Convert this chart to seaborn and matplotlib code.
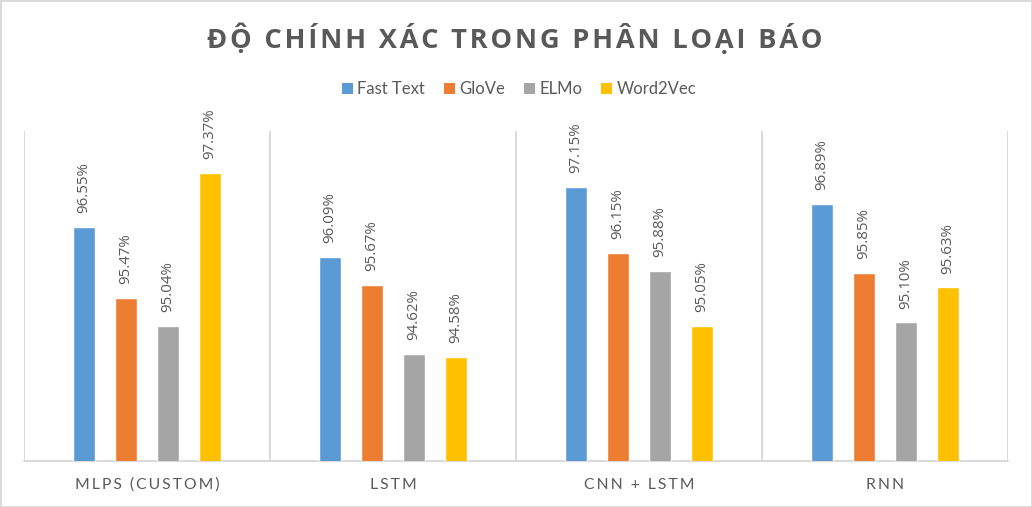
import matplotlib
matplotlib.use("Agg")
import matplotlib.pyplot as plt
import seaborn as sns
import pandas as pd
from matplotlib.patches import Rectangle, Patch

# ---- data ----
categories = ["MLPS (CUSTOM)", "LSTM", "CNN + LSTM", "RNN"]
series = ["Fast Text", "GloVe", "ELMo", "Word2Vec"]
fast_text = [96.55, 96.09, 97.15, 96.89]
glove = [95.47, 95.67, 96.15, 95.85]
elmo = [95.04, 94.62, 95.88, 95.10]
word2vec = [97.37, 94.58, 95.05, 95.63]
colors = ["#5B9BD5", "#ED7D31", "#A5A5A5", "#FFC000"]
title = "ĐỘ CHÍNH XÁC TRONG PHÂN LOẠI BÁO"

all_vals = [fast_text, glove, elmo, word2vec]
rows = []
for s, vals in zip(series, all_vals):
    for c, v in zip(categories, vals):
        rows.append({"model": c, "embedding": s, "acc": v})
df = pd.DataFrame(rows)


def spaced(text, sep):
    return sep.join(list(text))


sns.set_theme(style="white")
plt.rcParams['font.family'] = ['Lato', 'DejaVu Sans']

TXT = "#595959"
GRID = "#D9D9D9"

W, H = 1032, 507
fig = plt.figure(figsize=(W / 100, H / 100), dpi=100)
ax = fig.add_axes([24 / W, 46 / H, 984 / W, 330 / H])

sns.barplot(data=df, x="model", y="acc", hue="embedding", order=categories,
            hue_order=series, palette=colors, width=0.683, gap=0.476,
            saturation=1, ax=ax, legend=False, errorbar=None)

ax.set_ylim(93, 98)
ax.set_xlim(-0.5, 3.5)
for sp in ax.spines.values():
    sp.set_visible(False)
ax.set_yticks([])
ax.set_ylabel("")
ax.set_xlabel("")

for xb in [-0.5, 0.5, 1.5, 2.5, 3.5]:
    ax.axvline(xb, color=GRID, lw=1.4, zorder=0)
ax.axhline(93, color=GRID, lw=1.4, zorder=0, clip_on=False)

for cont, vals in zip(ax.containers, all_vals):
    ax.bar_label(cont, labels=[f"{v:.2f}%" for v in vals], rotation=90,
                 padding=10, color=TXT, fontsize=10.8,
                 family=['Open Sans', 'DejaVu Sans'])

ax.set_xticks(range(len(categories)))
ax.set_xticklabels([spaced(c, "\u2009") for c in categories], color=TXT,
                   fontsize=11.3)
ax.tick_params(axis="x", length=0, pad=12)

handles = [Patch(facecolor=c, edgecolor="none") for c in colors]
fig.legend(handles, series, ncol=4, loc="center",
           bbox_to_anchor=((515 + 4) / W, (H - 89) / H), frameon=False,
           fontsize=12, handlelength=0.66, handleheight=0.66,
           handletextpad=0.25, columnspacing=1.15, labelcolor=TXT)

fig.text(515 / W, (H - 38.5) / H, spaced(title, "\u200a"), ha="center",
         va="center", fontsize=19.6, fontweight="bold", color=TXT,
         family=['Open Sans', 'DejaVu Sans'])

fig.add_artist(Rectangle((0, 0), 1, 1, transform=fig.transFigure, fill=False,
                         edgecolor=GRID, lw=2))

fig.savefig("out.png", dpi=100, facecolor="white")
